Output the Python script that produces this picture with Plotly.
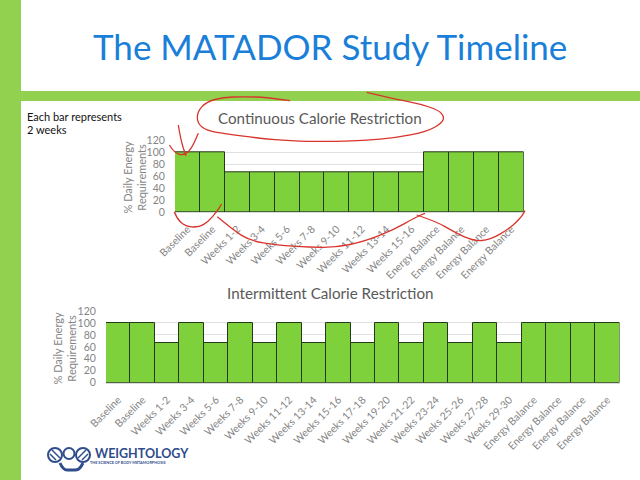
import plotly.graph_objects as go

W, H = 640, 480

# ---- data ----
top_labels = ["Baseline", "Baseline", "Weeks 1-2", "Weeks 3-4", "Weeks 5-6", "Weeks 7-8", "Weeks 9-10",
              "Weeks 11-12", "Weeks 13-14", "Weeks 15-16", "Energy Balance", "Energy Balance",
              "Energy Balance", "Energy Balance"]
top_values = [100, 100, 67, 67, 67, 67, 67, 67, 67, 67, 100, 100, 100, 100]
bot_labels = ["Baseline", "Baseline", "Weeks 1-2", "Weeks 3-4", "Weeks 5-6", "Weeks 7-8", "Weeks 9-10",
              "Weeks 11-12", "Weeks 13-14", "Weeks 15-16", "Weeks 17-18", "Weeks 19-20", "Weeks 21-22",
              "Weeks 23-24", "Weeks 25-26", "Weeks 27-28", "Weeks 29-30", "Energy Balance",
              "Energy Balance", "Energy Balance", "Energy Balance"]
bot_values = [100, 100, 67, 100, 67, 100, 67, 100, 67, 100, 67, 100, 67, 100, 67, 100, 67, 100, 100, 100, 100]
y_ticks = [0, 20, 40, 60, 80, 100, 120]
y_title = "% Daily Energy<br>Requirements"

GREEN = "#7fd13b"
BAND = "#92d050"
GRAY = "#858585"


def px(x):
    return x / W


def py(y):
    return 1 - y / H


fig = go.Figure()
fig.add_bar(x=list(range(len(top_values))), y=top_values, width=1, xaxis="x", yaxis="y",
            marker=dict(color=GREEN, line=dict(color="#24381a", width=1)), showlegend=False)
fig.add_bar(x=list(range(len(bot_values))), y=bot_values, width=1, xaxis="x2", yaxis="y2",
            marker=dict(color=GREEN, line=dict(color="#24381a", width=1)), showlegend=False)


def xaxis(labels, x0, x1, anchor):
    return dict(domain=[px(x0), px(x1)], range=[-0.5, len(labels) - 0.5], tickmode="array",
                tickvals=list(range(len(labels))), ticktext=labels, tickangle=-45, anchor=anchor,
                tickfont=dict(family="Lato", size=10.5, color=GRAY), showgrid=False, zeroline=False,
                showline=True, linecolor="#d9d9d9", ticks="outside", ticklen=6, tickcolor="rgba(0,0,0,0)",
                fixedrange=True, automargin=False)


def yaxis(y_top, y_bottom, anchor):
    return dict(domain=[py(y_bottom), py(y_top)], range=[0, 120], tickmode="array", tickvals=y_ticks, anchor=anchor,
                tickfont=dict(family="Lato", size=10.5, color=GRAY), gridcolor="#e0e0e0", gridwidth=1,
                zeroline=False, ticks="outside", ticklen=7, tickcolor="rgba(0,0,0,0)", fixedrange=True,
                automargin=False)


# ---- decorative ink, in slide pixels ----
def zoomed(points):
    return [(110 + a / 3, 90 + b / 3) for a, b in points]


ink = [
    zoomed([(540, 32), (470, 22), (400, 20), (340, 22), (290, 35), (262, 65), (262, 100), (290, 122), (350, 132),
            (450, 145), (540, 153), (650, 155), (760, 152), (860, 143), (950, 125), (995, 100), (1003, 80),
            (985, 60), (930, 42), (860, 28), (770, 7)]),
    zoomed([(205, 105), (212, 150), (228, 198)]),
    zoomed([(178, 165), (195, 192), (225, 195), (245, 175), (265, 130)]),
    zoomed([(193, 365), (200, 385), (225, 408), (265, 413), (295, 395), (320, 365), (335, 342)]),
    zoomed([(322, 380), (370, 420), (420, 452), (500, 465), (600, 472), (680, 472), (760, 455), (850, 420),
            (920, 380), (945, 370)]),
    zoomed([(920, 375), (980, 395), (1030, 425), (1090, 453), (1140, 450), (1200, 415), (1235, 380), (1245, 362)]),
]


def smooth_path(pts):
    p = [(px(a), py(b)) for a, b in pts]
    if len(p) < 3:
        return "M" + " L".join(f"{a},{b}" for a, b in p)
    d = f"M{p[0][0]},{p[0][1]}"
    for i in range(1, len(p) - 1):
        mx, my = (p[i][0] + p[i + 1][0]) / 2, (p[i][1] + p[i + 1][1]) / 2
        d += f" Q{p[i][0]},{p[i][1]} {mx},{my}"
    d += f" L{p[-1][0]},{p[-1][1]}"
    return d


def rect(x0, y0, x1, y1, color):
    return dict(type="rect", xref="paper", yref="paper", x0=px(x0), x1=px(x1), y0=py(y0), y1=py(y1),
                fillcolor=color, line=dict(width=0), layer="below")


LOGO = "#2f4c8c"


def ring(cx, cy, r, width=2):
    return dict(type="circle", xref="paper", yref="paper", x0=px(cx - r), x1=px(cx + r), y0=py(cy + r),
                y1=py(cy - r), line=dict(color=LOGO, width=width), fillcolor="rgba(0,0,0,0)")


def stroke(pts, color, width):
    return dict(type="path", xref="paper", yref="paper", path=smooth_path(pts), line=dict(color=color, width=width))


shapes = [rect(0, 0, 21, H, BAND), rect(21, 91, W, 101, BAND)]
shapes += [stroke(s, "#d8342c", 1.3) for s in ink]
shapes += [ring(55, 455, 7), ring(69, 453.5, 5.5), ring(83, 455, 7)]
shapes += [stroke([(50, 454), (56, 460)], LOGO, 1.5), stroke([(52, 450), (60, 458)], LOGO, 1.5),
           stroke([(88, 454), (82, 460)], LOGO, 1.5), stroke([(86, 450), (78, 458)], LOGO, 1.5)]
shapes.append(stroke([(60, 463), (63, 470), (71, 470), (79, 470), (83, 463)], LOGO, 3))


def text(x, y, s, size, color, anchor="center", family="Lato", bold=False, angle=0, align="left"):
    return dict(x=px(x), y=py(y), xref="paper", yref="paper", text=f"<b>{s}</b>" if bold else s, showarrow=False,
                xanchor=anchor, yanchor="middle", textangle=angle,
                font=dict(family=family, size=size, color=color), align=align)


annotations = [
    text(330, 46, "The MATADOR Study Timeline", 35, "#1a7fd8"),
    text(25, 116.5, "Each bar represents", 11, "#111111", "left"),
    text(25, 129.5, "2 weeks", 11, "#111111", "left"),
    text(320, 118, "Continuous Calorie Restriction", 15.2, "#595959"),
    text(330.5, 293, "Intermittent Calorie Restriction", 15.2, "#595959"),
    text(133.5, 177, y_title, 11, GRAY, angle=-90, align="center"),
    text(63.5, 348, y_title, 11, GRAY, angle=-90, align="center"),
    text(93, 453.5, "WEIGHTOLOGY", 12.5, LOGO, "left", bold=True),
    text(88, 462.5, "THE SCIENCE OF BODY METAMORPHOSIS", 3.8, LOGO, "left", bold=True),
]

fig.update_layout(
    width=W, height=H, margin=dict(l=0, r=0, t=0, b=0, autoexpand=False), paper_bgcolor="white", plot_bgcolor="white",
    showlegend=False, bargap=0, shapes=shapes, annotations=annotations,
    xaxis=xaxis(top_labels, 175, 523.7, "y"), yaxis=yaxis(140.3, 212, "x"),
    xaxis2=xaxis(bot_labels, 106, 619.5, "y2"), yaxis2=yaxis(311, 382.7, "x2"),
)
fig.write_html("out.html", config=dict(displayModeBar=False),
               post_script="document.body.style.margin='0';")
